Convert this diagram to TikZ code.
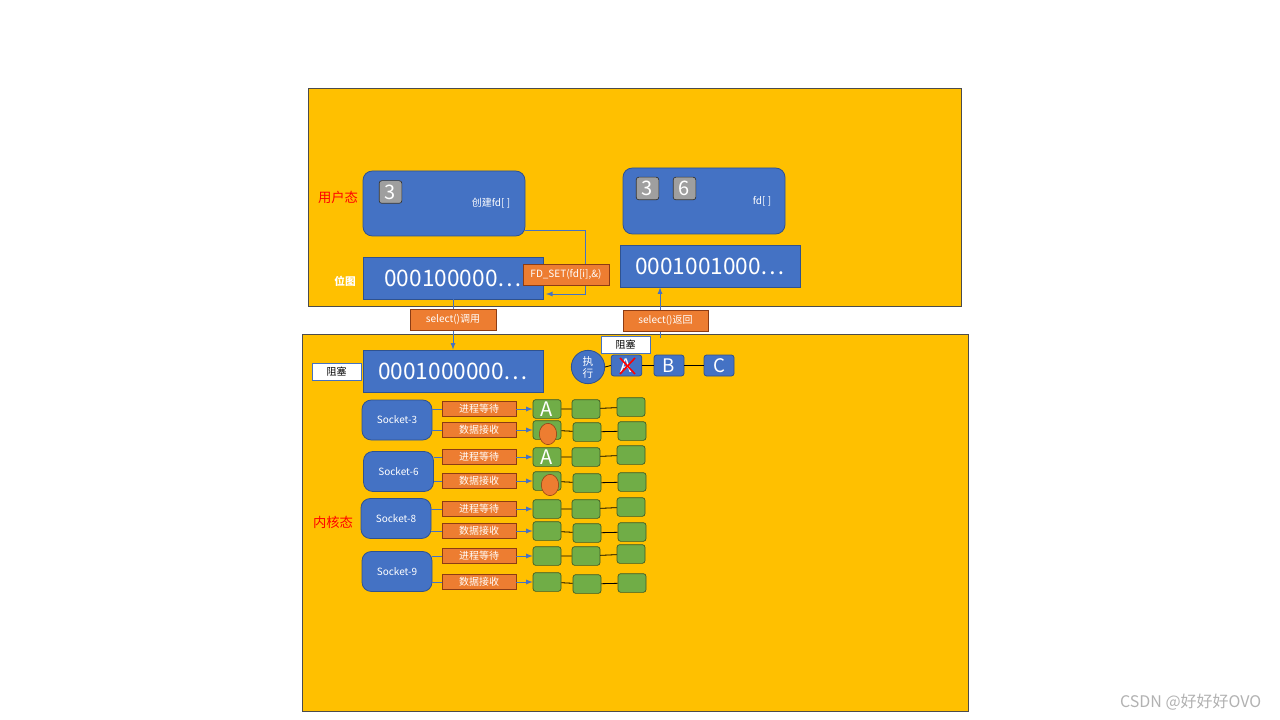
\documentclass[tikz,border=0pt]{standalone}
\usepackage{fontspec}
\setmainfont{Noto Sans CJK SC}
\usetikzlibrary{shapes.geometric}
\begin{document}
\begin{tikzpicture}[x=0.75pt,y=-0.75pt,
  bg/.style={fill={rgb,255:red,255;green,192;blue,0},draw=black!70,line width=0.5pt},
  bl/.style={fill={rgb,255:red,68;green,114;blue,196},draw={rgb,255:red,47;green,82;blue,143},line width=0.6pt},
  rbl/.style={bl,rounded corners=7pt},
  gr/.style={fill=gray!75,draw=gray!40!black,rounded corners=2pt,line width=0.5pt,text=white,font=\fontsize{15}{15}\selectfont},
  lab/.style={fill={rgb,255:red,237;green,125;blue,49},draw={rgb,255:red,140;green,60;blue,20},line width=0.5pt,text=white,font=\fontsize{7.5}{8}\selectfont},
  gn/.style={fill={rgb,255:red,112;green,173;blue,71},draw={rgb,255:red,60;green,90;blue,40},rounded corners=2pt,line width=0.5pt},
  wb/.style={fill=white,draw={rgb,255:red,68;green,114;blue,196},line width=0.5pt,font=\fontsize{7.5}{8}\selectfont},
  conn/.style={draw={rgb,255:red,68;green,114;blue,196},line width=0.7pt},
  arr/.style={conn,-latex},
  bk/.style={draw=black,line width=0.6pt}]
\useasboundingbox (0,0) rectangle (1280,720);
\fill[white] (0,0) rectangle (1280,720);
\draw[bg] (308,88) rectangle (961,306);
\draw[bg] (302,334) rectangle (968,711);
\node[text=red,font=\fontsize{10}{10}\selectfont] (u) at (338,197) {用户态};
\node[text=white,font=\bfseries\fontsize{8}{8}\selectfont] (w) at (345,281) {位图};
\node[text=red,font=\fontsize{10}{10}\selectfont] (k) at (333,522) {内核态};
% user boxes
\draw[rbl] (363,171) rectangle (525,236);
\node[gr,minimum width=17pt,minimum height=17pt,inner sep=0pt] (g3) at (390.5,192) {3};
\node[text=white,font=\fontsize{7.5}{8}\selectfont] (cf) at (491,203) {创建fd[ ]};
\draw[rbl] (623,168) rectangle (785,234);
\node[gr,minimum width=17pt,minimum height=17pt,inner sep=0pt] (h3) at (647.5,188.5) {3};
\node[gr,minimum width=17pt,minimum height=17pt,inner sep=0pt] (h6) at (684.5,188.5) {6};
\node[text=white,font=\fontsize{7.5}{8}\selectfont] (fd) at (762,201) {fd[ ]};
\node[bl,minimum width=135pt,minimum height=31.5pt,text=white,font=\fontsize{17}{17}\selectfont] (bm1) at (453,278) {000100000⋯};
\node[bl,minimum width=135pt,minimum height=31.5pt,text=white,font=\fontsize{17}{17}\selectfont] (bm2) at (710,266) {0001001000⋯};
\coordinate (c1) at (525,230);
\coordinate (c2) at (546,294);
\draw[conn,-latex] (c1) -- (585,230) -- (585,294) -- (c2);
\node[lab,minimum width=64.5pt,minimum height=15.75pt,inner sep=0pt] (fs) at (566,274.5) {FD\_SET(fd[i],\&)};
% kernel bitmap
\node[bl,minimum width=135pt,minimum height=31.5pt,text=white,font=\fontsize{17}{17}\selectfont] (bm3) at (453,371) {0001000000⋯};
\draw[arr] (bm1.south) -- (bm3.north);
\node[lab,minimum width=64.5pt,minimum height=15.75pt,inner sep=0pt] (sc) at (453,319.5) {select()调用};
\coordinate (r1) at (660,338);
\draw[arr] (r1) -- (bm2.south -| r1);
\node[lab,minimum width=64pt,minimum height=15.75pt,inner sep=0pt] (sr) at (665.5,320.5) {select()返回};
\node[wb,minimum width=36.75pt,minimum height=12.75pt,inner sep=0pt] (zs1) at (625.5,344.5) {阻塞};
\node[wb,minimum width=36.75pt,minimum height=12.75pt,inner sep=0pt] (zs2) at (336.5,371.5) {阻塞};
% exec chain
\node[circle,bl,minimum size=25pt,inner sep=0pt,text=white,align=center,font=\fontsize{8}{9}\selectfont] (ex) at (588,367) {执\\行};
\node[bl,rounded corners=2pt,minimum width=23pt,minimum height=15.75pt,inner sep=0pt,text=white,font=\fontsize{14}{14}\selectfont] (A) at (626.5,365.5) {A};
\node[bl,rounded corners=2pt,minimum width=22.5pt,minimum height=15.75pt,inner sep=0pt,text=white,font=\fontsize{14}{14}\selectfont] (B) at (669,365.5) {B};
\node[bl,rounded corners=2pt,minimum width=22.5pt,minimum height=15.75pt,inner sep=0pt,text=white,font=\fontsize{14}{14}\selectfont] (C) at (719,365.5) {C};
\draw[bk] (ex.east) -- (A.west);
\draw[bk] (A) -- (B) (B) -- (C);
\draw[red,line width=1.2pt] (620,358) -- (635,374) (635,358) -- (620,374);
% sockets
\foreach \n/\x/\y/\ya/\yb in {3/397/420/409/430, 6/398.5/471.5/457/481, 8/396/518.5/509/531, 9/397/571.5/556/582}{
  \node[rbl,minimum width=52.5pt,minimum height=30pt,text=white,font=\fontsize{7.5}{8}\selectfont] (s\n) at (\x,\y) {Socket-\n};
  \node[lab,minimum width=55.5pt,minimum height=11.5pt,inner sep=0pt] (p\n) at (479,\ya) {进程等待};
  \node[lab,minimum width=55.5pt,minimum height=11.5pt,inner sep=0pt] (d\n) at (479,\yb) {数据接收};
  \node[gn,minimum width=21pt,minimum height=14pt,inner sep=0pt] (pa\n) at (547,\ya) {};
  \node[gn,minimum width=21pt,minimum height=14pt,inner sep=0pt] (pb\n) at (586,\ya) {};
  \node[gn,minimum width=21pt,minimum height=14pt,inner sep=0pt] (pc\n) at (631,\ya-2) {};
  \node[gn,minimum width=21pt,minimum height=14pt,inner sep=0pt] (da\n) at (547,\yb) {};
  \node[gn,minimum width=21pt,minimum height=14pt,inner sep=0pt] (db\n) at (587,\yb+2) {};
  \node[gn,minimum width=21pt,minimum height=14pt,inner sep=0pt] (dc\n) at (632,\yb+1) {};
  \draw[conn] (s\n.east |- p\n) -- (p\n.west);
  \draw[conn] (s\n.east |- d\n) -- (d\n.west);
  \draw[arr] (p\n.east) -- (pa\n.west);
  \draw[arr] (d\n.east) -- (da\n.west);
  \draw[bk] (pa\n) -- (pb\n) (pb\n) -- (pc\n);
  \draw[bk] (da\n) -- (db\n) (db\n) -- (dc\n);
}
\node[text=white,font=\fontsize{15}{15}\selectfont,inner sep=0pt] (ta1) at (pa3) {A};
\node[text=white,font=\fontsize{15}{15}\selectfont,inner sep=0pt] (ta2) at (pa6) {A};
\node[ellipse,fill={rgb,255:red,237;green,125;blue,49},draw={rgb,255:red,140;green,60;blue,20},minimum width=13pt,minimum height=16pt,inner sep=0pt] (o1) at (548,434) {};
\node[ellipse,fill={rgb,255:red,237;green,125;blue,49},draw={rgb,255:red,140;green,60;blue,20},minimum width=13pt,minimum height=16pt,inner sep=0pt] (o2) at (550,485) {};
\node[text=gray!60,font=\fontsize{12}{12}\selectfont,anchor=east] (wm) at (1266,702) {CSDN @好好好OVO};
\end{tikzpicture}
\end{document}
